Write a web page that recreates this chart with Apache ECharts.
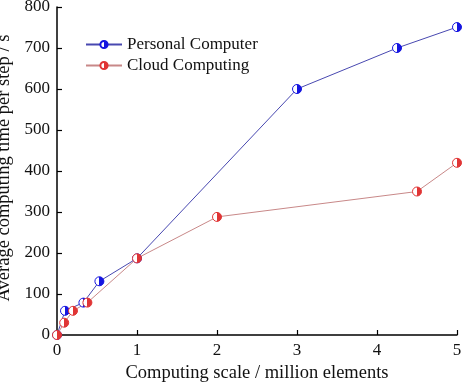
<!DOCTYPE html>
<html><head><meta charset="utf-8">
<script src="https://cdn.jsdelivr.net/npm/echarts@6/dist/echarts.min.js"></script>
<style>html,body{margin:0;padding:0;background:#fff}#c{width:474px;height:384px}</style>
</head><body><div id="c"></div>
<script>
const seriesNames = ['Personal Computer', 'Cloud Computing'];
const pcX = [0, 0.1, 0.33, 0.53, 1.0, 3.0, 4.25, 5.0];
const pcY = [0, 59, 79, 131, 187, 600, 700, 751];
const ccX = [0, 0.09, 0.2, 0.38, 1.0, 2.0, 4.5, 5.0];
const ccY = [0, 30, 59, 79, 187, 288, 350, 420];
const xTicks = [0, 1, 2, 3, 4, 5];
const yTicks = [0, 100, 200, 300, 400, 500, 600, 700, 800];

function half(c) {
  return new echarts.graphic.LinearGradient(0, 0, 1, 0, [
    {offset: 0, color: '#ffffff'}, {offset: 0.5, color: '#ffffff'},
    {offset: 0.5, color: c}, {offset: 1, color: c}
  ]);
}
const font = '"Liberation Serif", "Times New Roman", serif';
const chart = echarts.init(document.getElementById('c'));
chart.setOption({
  animation: false,
  textStyle: {fontFamily: font},
  grid: {left: 57, right: 17, top: 7, bottom: 49, containLabel: false, outerBoundsMode: 'none'},
  legend: {
    left: 80, top: 31, orient: 'vertical', itemGap: 4,
    itemWidth: 36, itemHeight: 9,
    textStyle: {fontFamily: font, fontSize: 17, color: '#111'},
    data: seriesNames
  },
  xAxis: {
    type: 'value', min: xTicks[0], max: xTicks[xTicks.length - 1], interval: 1,
    name: 'Computing scale / million elements', nameLocation: 'middle', nameGap: 28,
    nameTextStyle: {fontFamily: font, fontSize: 18.5, color: '#111'},
    axisLine: {lineStyle: {color: '#000', width: 1.5}},
    axisTick: {inside: true, length: 5, lineStyle: {color: '#000', width: 1.2}},
    axisLabel: {fontFamily: font, fontSize: 17, color: '#111', margin: 7},
    splitLine: {show: false}
  },
  yAxis: {
    type: 'value', min: yTicks[0], max: yTicks[yTicks.length - 1], interval: 100,
    name: 'Average computing time per step / s', nameLocation: 'middle', nameGap: 39,
    nameTextStyle: {fontFamily: font, fontSize: 18.5, color: '#111', padding: [0, 0, 0, 6]},
    axisLine: {lineStyle: {color: '#000', width: 1.5}},
    axisTick: {inside: true, length: 5, lineStyle: {color: '#000', width: 1.2}},
    axisLabel: {fontFamily: font, fontSize: 17, color: '#111', margin: 7},
    splitLine: {show: false}
  },
  series: [
    {
      name: seriesNames[0], type: 'line', symbol: 'circle', symbolSize: 9,
      data: pcX.map((x, i) => [x, pcY[i]]),
      lineStyle: {color: '#4848b0', width: 1},
      itemStyle: {color: half('#1515e0'), borderColor: '#1515e0', borderWidth: 1}
    },
    {
      name: seriesNames[1], type: 'line', symbol: 'circle', symbolSize: 9,
      data: ccX.map((x, i) => [x, ccY[i]]),
      lineStyle: {color: '#c88888', width: 1},
      itemStyle: {color: half('#e03535'), borderColor: '#e03535', borderWidth: 1}
    }
  ]
});
</script></body></html>
